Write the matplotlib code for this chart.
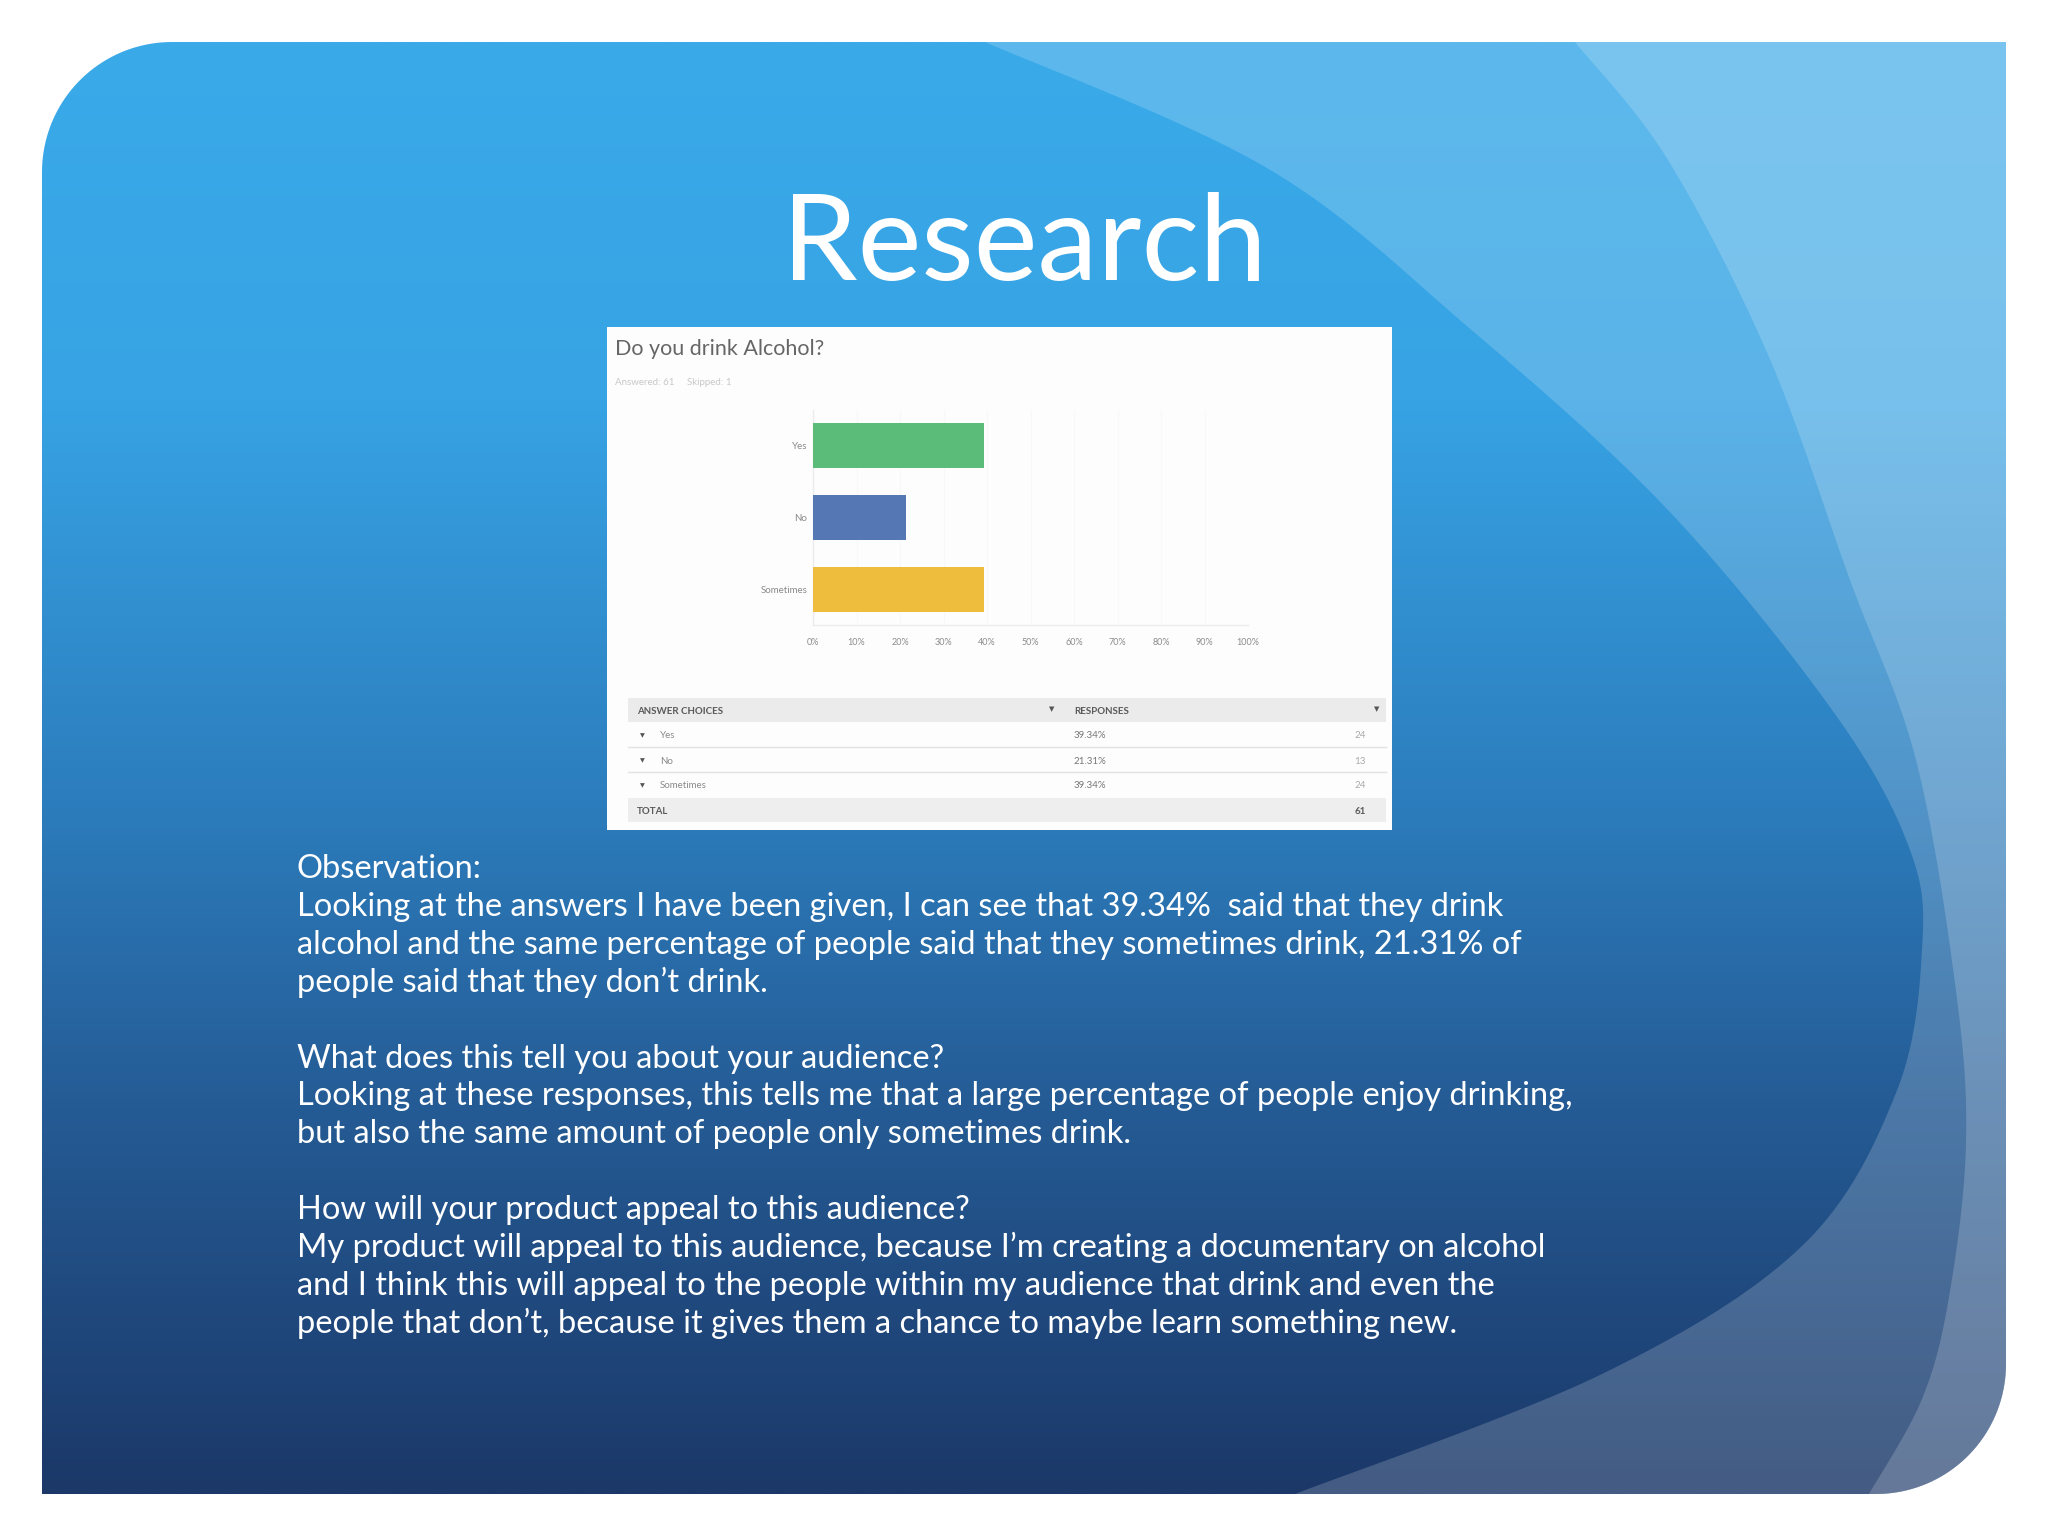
import numpy as np
import matplotlib.pyplot as plt
from matplotlib.path import Path
from matplotlib.patches import PathPatch, Rectangle

W, H = 2048, 1536

# ---- content ----
title = "Research"
question = "Do you drink Alcohol?"
answered_note = "Answered: 61     Skipped: 1"
choices = ["Yes", "No", "Sometimes"]
percents = [39.34, 21.31, 39.34]
counts = [24, 13, 24]
total = 61
x_ticks = [0, 10, 20, 30, 40, 50, 60, 70, 80, 90, 100]
bar_colors = ["#5bbb78", "#5577b3", "#efbd3e"]
body_lines = [
    "Observation:",
    "Looking at the answers I have been given, I can see that 39.34%  said that they drink",
    "alcohol and the same percentage of people said that they sometimes drink, 21.31% of",
    "people said that they don\u2019t drink.",
    "",
    "What does this tell you about your audience?",
    "Looking at these responses, this tells me that a large percentage of people enjoy drinking,",
    "but also the same amount of people only sometimes drink.",
    "",
    "How will your product appeal to this audience?",
    "My product will appeal to this audience, because I\u2019m creating a documentary on alcohol",
    "and I think this will appeal to the people within my audience that drink and even the",
    "people that don\u2019t, because it gives them a chance to maybe learn something new.",
]

plt.rcParams["font.family"] = ["Lato", "DejaVu Sans"]

fig = plt.figure(figsize=(W / 100, H / 100), dpi=100)
fig.patch.set_facecolor("white")
bg = fig.add_axes([0, 0, 1, 1])
bg.set_xlim(0, W)
bg.set_ylim(H, 0)
bg.axis("off")


def slide_outline(x0, y0, x1, y1, r):
    t1 = np.linspace(np.pi, 1.5 * np.pi, 40)
    t2 = np.linspace(0, 0.5 * np.pi, 40)
    tl = np.c_[x0 + r + r * np.cos(t1), y0 + r + r * np.sin(t1)]
    br = np.c_[x1 - r + r * np.cos(t2), y1 - r + r * np.sin(t2)]
    pts = np.vstack([tl, [[x1, y0]], br, [[x0, y1]], tl[:1]])
    return Path(pts, closed=True)


def smooth(points, n=30):
    p = np.asarray(points, float)
    p = np.vstack([p[0], p, p[-1]])
    out = []
    for i in range(1, len(p) - 2):
        p0, p1, p2, p3 = p[i - 1], p[i], p[i + 1], p[i + 2]
        t = np.linspace(0, 1, n)[:, None]
        out.append(0.5 * ((2 * p1) + (-p0 + p2) * t
                          + (2 * p0 - 5 * p1 + 4 * p2 - p3) * t ** 2
                          + (-p0 + 3 * p1 - 3 * p2 + p3) * t ** 3))
    return np.vstack(out)


slide = PathPatch(slide_outline(42, 42, 2006, 1494, 130), fc="none", ec="none")
bg.add_patch(slide)

# vertical gradient
stops_y = [42, 400, 800, 1100, 1494]
stops_c = np.array([[58, 170, 233], [55, 163, 228], [44, 125, 189],
                    [37, 92, 150], [27, 56, 104]]) / 255
ys = np.linspace(42, 1494, 400)
grad = np.stack([np.interp(ys, stops_y, stops_c[:, k]) for k in range(3)], axis=1)
img = bg.imshow(grad[:, None, :], extent=(42, 2006, 1494, 42), origin="upper",
                aspect="auto", interpolation="bilinear", zorder=1)
img.set_clip_path(slide)

# light swooshes on the right
b1 = [(985, 42), (1267, 168), (1468, 327), (1668, 510), (1835, 714),
      (1910, 850), (1922, 950), (1896, 1093), (1802, 1246), (1602, 1374), (1295, 1494)]
b2 = [(1575, 42), (1668, 160), (1769, 357), (1850, 580), (1916, 760),
      (1956, 991), (1966, 1144), (1949, 1297), (1922, 1399), (1869, 1494)]
for b in (b1, b2):
    c = smooth(b)
    pts = np.vstack([c, [[2010, 1500], [2010, 38]], c[:1]])
    sw = PathPatch(Path(pts, closed=True), fc="white", ec="none", alpha=0.18, zorder=2)
    bg.add_patch(sw)
    sw.set_clip_path(slide)

# title
t_title = bg.text(1024, 280, title, color="white", ha="center", va="baseline",
                  fontsize=90, zorder=5)

# body text
body = []
for i, line in enumerate(body_lines):
    body.append(bg.text(297, 878 + 37.9 * i, line, color="white", ha="left",
                        va="baseline", fontsize=22, zorder=5))

# ---- survey screenshot panel ----
bg.add_patch(Rectangle((607, 327), 785, 503, fc="#fdfdfd", ec="none", zorder=3))
bg.text(615, 355, question, color="#666666", fontsize=15.5, va="baseline", zorder=5)
bg.text(615, 385, answered_note, color="#c8c8c8", fontsize=7, va="baseline", zorder=5)

ax = fig.add_axes([813 / W, 1 - 625 / H, (1248 - 813) / W, (625 - 410) / H], zorder=6)
ax.set_facecolor("none")
ax.barh(range(len(choices)), percents, height=0.62, color=bar_colors, zorder=3)
ax.set_xlim(0, 100)
ax.set_ylim(2.49, -0.49)
ax.set_xticks(x_ticks)
ax.set_xticklabels([f"{t}%" for t in x_ticks], fontsize=6.5, color="#8c8c8c")
ax.set_yticks(range(len(choices)))
ax.set_yticklabels(choices, fontsize=7, color="#8a8a8a")
ax.tick_params(length=0, axis="x", pad=9)
ax.tick_params(length=0, axis="y", pad=4)
for s in ("top", "right"):
    ax.spines[s].set_visible(False)
for s in ("left", "bottom"):
    ax.spines[s].set_color("#ececec")
    ax.spines[s].set_linewidth(1)
ax.grid(axis="x", color="#f8f8f8", linewidth=1, zorder=0)

# summary table
bg.add_patch(Rectangle((628, 698), 758, 24, fc="#ebebeb", ec="none", zorder=4))
bg.add_patch(Rectangle((628, 798), 758, 24, fc="#eeeeee", ec="none", zorder=4))
for yl in (747, 772):
    bg.plot([628, 1386], [yl, yl], color="#e2e2e2", lw=1, zorder=4)
hdr = dict(fontsize=7, color="#5a5a5a", fontweight="bold", va="center", zorder=5)
bg.text(637, 711, "ANSWER CHOICES", **hdr)
bg.text(1074, 711, "RESPONSES", **hdr)
for xa in (1052, 1377):
    bg.text(xa, 709, "\u25bc", fontsize=5, color="#555555", family="DejaVu Sans",
            ha="center", va="center", zorder=5)
row_y = [736, 761, 786]
for y, ch, pc, cnt in zip(row_y, choices, percents, counts):
    bg.text(642, y, "\u25bc", fontsize=4.5, color="#555555", family="DejaVu Sans",
            ha="center", va="center", zorder=5)
    bg.text(660, y, ch, fontsize=7, color="#8a8a8a", va="center", zorder=5)
    bg.text(1074, y, f"{pc:.2f}%", fontsize=7, color="#777777", va="center", zorder=5)
    bg.text(1366, y, str(cnt), fontsize=7, color="#aaaaaa", ha="right", va="center", zorder=5)
bg.text(637, 811, "TOTAL", **hdr)
bg.text(1366, 811, str(total), ha="right",
        **{k: v for k, v in hdr.items()})

# fit text widths to the slide layout
fig.canvas.draw()
r = fig.canvas.get_renderer()
w = t_title.get_window_extent(r).width
t_title.set_fontsize(90 * 485 / w)
widest = max(body, key=lambda t: t.get_window_extent(r).width)
w = widest.get_window_extent(r).width
for t in body:
    t.set_fontsize(22 * 1273 / w)

fig.savefig("out.png", dpi=100)
